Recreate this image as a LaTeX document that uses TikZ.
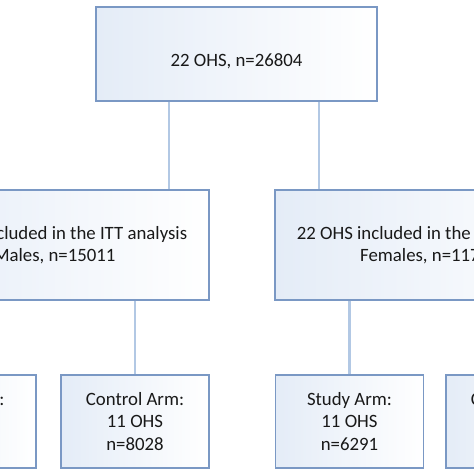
\documentclass[tikz,border=0pt]{standalone}
\usepackage{fontspec}
\setmainfont{Carlito}
\definecolor{boxline}{RGB}{122,152,196}
\definecolor{boxtint}{RGB}{228,236,247}
\definecolor{linkblue}{RGB}{178,200,228}
\definecolor{textgray}{RGB}{25,25,25}

\begin{document}
\begin{tikzpicture}[x=1pt, y=-1pt,
        every node/.style = {font=\fontsize{18.8}{22.5}\selectfont, text=textgray},
        box/.style = {draw=boxline, line width=1.3pt, left color=boxtint, right color=white, align=center, inner sep=0pt},
        arm/.style = {box, minimum width=148pt, minimum height=93pt},
        link/.style = {draw=linkblue, line width=2.8pt}]
        \useasboundingbox (0, 0) rectangle (474, 474);
        \clip (0, 0) rectangle (474, 474);

        \node[box, minimum width=281pt, minimum height=94pt, text height=24pt, text depth=0pt] (All) at (236.5, 54) {22 OHS, n=26804};

        \node[box, minimum width=309pt, minimum height=110pt] (Males) at (54.5, 245) {22 OHS included in the ITT analysis\\Males, n=15011};
        \node[box, minimum width=309pt, minimum height=110pt] (Females) at (429.5, 245) {22 OHS included in the ITT analysis\\Females, n=11793};

        \node[arm] (MStudy) at (-38, 421.5) {Study Arm:\\11 OHS\\n=6983};
        \node[arm] (MControl) at (135, 421.5) {Control Arm:\\11 OHS\\n=8028};
        \node[arm] (FStudy) at (349.5, 421.5) {Study Arm:\\11 OHS\\n=6291};
        \node[arm] (FControl) at (520, 421.5) {Control Arm:\\11 OHS\\n=5502};

        \coordinate (SplitM) at (169, 0);
        \coordinate (SplitF) at (319, 0);

        \draw[link] (All.south -| SplitM) -- (Males.north -| SplitM);
        \draw[link] (All.south -| SplitF) -- (Females.north -| SplitF);
        \draw[link] (Males.south -| MControl.north) -- (MControl.north);
        \draw[link] (Females.south -| FStudy.north) -- (FStudy.north);
    \end{tikzpicture}
\end{document}
